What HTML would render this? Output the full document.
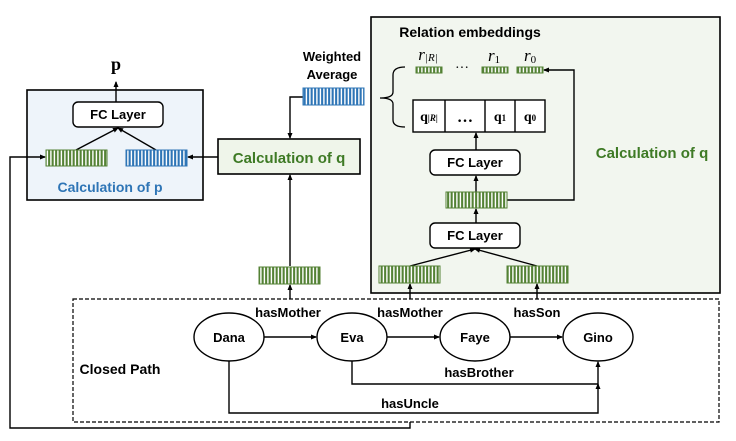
<!DOCTYPE html>
<html><head><style>
body{margin:0;background:#fff;}
svg{display:block;font-family:"Liberation Sans",Arial,sans-serif;}
.b{font-weight:bold;}
</style></head><body>
<svg width="736" height="441" viewBox="0 0 736 441" xmlns="http://www.w3.org/2000/svg">
<defs>
<pattern id="pg" width="3.5" height="20" patternUnits="userSpaceOnUse"><rect width="3.5" height="20" fill="#548235"/><rect x="1.2" width="1.4" height="20" fill="#fff"/></pattern>
<pattern id="pb" width="3.5" height="20" patternUnits="userSpaceOnUse"><rect width="3.5" height="20" fill="#2e75b6"/><rect x="1.2" width="1.4" height="20" fill="#fff"/></pattern>
<marker id="a" markerWidth="6" markerHeight="6" refX="5" refY="3" orient="auto" markerUnits="userSpaceOnUse"><path d="M0,0.5 L6,3 L0,5.5z" fill="#000"/></marker>
</defs>
<g stroke="#000" stroke-width="1.4" fill="none">
<rect x="371" y="17" width="349" height="276" fill="#f2f6ef" stroke-width="1.6"/>
<rect x="27" y="90" width="176" height="110" fill="#eef4fa" stroke-width="1.6"/>
<rect x="218" y="139" width="142" height="35" fill="#eff5ea" stroke-width="1.6"/>
<rect x="73" y="299" width="646" height="123" stroke-dasharray="4,2" stroke-width="1.2"/>
<rect x="73" y="102" width="90" height="25" rx="5" fill="#fff"/>
<rect x="430" y="150" width="90" height="25" rx="5" fill="#fff"/>
<rect x="430" y="223" width="90" height="25" rx="5" fill="#fff"/>
<rect x="413" y="100" width="132" height="32" fill="#fff"/>
<path d="M445,100V132M485,100V132M515,100V132"/>
<path d="M405,67 Q393,67 393,75 V92 Q393,98 380,98 Q393,98 393,104 V120 Q393,127 405,127" stroke-width="1.3"/>
<ellipse cx="229" cy="337" rx="35" ry="24" fill="#fff"/>
<ellipse cx="352" cy="337" rx="35" ry="24" fill="#fff"/>
<ellipse cx="475" cy="337" rx="35" ry="24" fill="#fff"/>
<ellipse cx="598" cy="337" rx="35" ry="24" fill="#fff"/>
<g marker-end="url(#a)">
<path d="M116,102V82"/>
<path d="M76,150L118,128"/>
<path d="M156,150L118,128"/>
<path d="M10,420V428H410V422M10,428V157H45"/>
<path d="M218,157H188"/>
<path d="M303,97H290V138"/>
<path d="M290,266V175"/>
<path d="M290,299V285"/>
<path d="M410,299V284"/>
<path d="M537,299V284"/>
<path d="M410,266L475,249"/>
<path d="M537,266L475,249"/>
<path d="M476,223V209"/>
<path d="M476,192V176"/>
<path d="M476,150V133"/>
<path d="M507,200H574V70H544"/>
<path d="M264,337H316"/>
<path d="M387,337H439"/>
<path d="M510,337H562"/>
<path d="M352,361V384H598V362"/>
<path d="M229,361V413H598V384"/>
</g>
</g>
<g stroke-width="1">
<rect x="46" y="150" width="61" height="16" fill="url(#pg)" stroke="#548235"/>
<rect x="126" y="150" width="61" height="16" fill="url(#pb)" stroke="#2e75b6"/>
<rect x="303" y="88" width="61" height="17" fill="url(#pb)" stroke="#2e75b6"/>
<rect x="259" y="267" width="61" height="17" fill="url(#pg)" stroke="#548235"/>
<rect x="379" y="266" width="61" height="17" fill="url(#pg)" stroke="#548235"/>
<rect x="507" y="266" width="61" height="17" fill="url(#pg)" stroke="#548235"/>
<rect x="446" y="192" width="61" height="16" fill="url(#pg)" stroke="#548235"/>
<rect x="416" y="67" width="26" height="6" fill="url(#pg)" stroke="#548235"/>
<rect x="482" y="67" width="26" height="6" fill="url(#pg)" stroke="#548235"/>
<rect x="517" y="67" width="26" height="6" fill="url(#pg)" stroke="#548235"/>
</g>
<g class="b" font-size="13" text-anchor="middle" fill="#000">
<text x="118" y="119">FC Layer</text>
<text x="475" y="167">FC Layer</text>
<text x="475" y="240">FC Layer</text>
<text x="332" y="61">Weighted</text>
<text x="332" y="79">Average</text>
<text x="470" y="37" font-size="14">Relation embeddings</text>
<text x="229" y="342">Dana</text>
<text x="352" y="342">Eva</text>
<text x="475" y="342">Faye</text>
<text x="598" y="342">Gino</text>
<text x="288" y="317">hasMother</text>
<text x="410" y="317">hasMother</text>
<text x="537" y="317">hasSon</text>
<text x="479" y="377">hasBrother</text>
<text x="410" y="408">hasUncle</text>
<text x="120" y="374" font-size="14">Closed Path</text>
</g>
<text x="110" y="192" class="b" font-size="14" text-anchor="middle" fill="#2e75b6">Calculation of p</text>
<text x="289" y="163" class="b" font-size="15" text-anchor="middle" fill="#3e7a25">Calculation of q</text>
<text x="652" y="158" class="b" font-size="15" text-anchor="middle" fill="#3e7a25">Calculation of q</text>
<g font-family="Liberation Serif,serif" text-anchor="middle">
<text x="116" y="70" font-size="18" font-weight="bold">p</text>
<text x="429" y="121" font-weight="bold" font-size="14">q<tspan font-size="9" font-style="italic">|R|</tspan></text>
<text x="465" y="122" font-weight="bold" font-size="16">…</text>
<text x="500" y="121" font-weight="bold" font-size="14">q<tspan font-size="9">1</tspan></text>
<text x="530" y="121" font-weight="bold" font-size="14">q<tspan font-size="9">0</tspan></text>
<text x="428" y="60" font-size="17" font-style="italic">r<tspan font-size="11" dy="1">|R|</tspan></text>
<text x="462" y="72" font-size="14">···</text>
<text x="494" y="61" font-size="17" font-style="italic">r<tspan font-size="11" font-style="normal" dy="2">1</tspan></text>
<text x="530" y="61" font-size="17" font-style="italic">r<tspan font-size="11" font-style="normal" dy="2">0</tspan></text>
</g>
</svg>
</body></html>
